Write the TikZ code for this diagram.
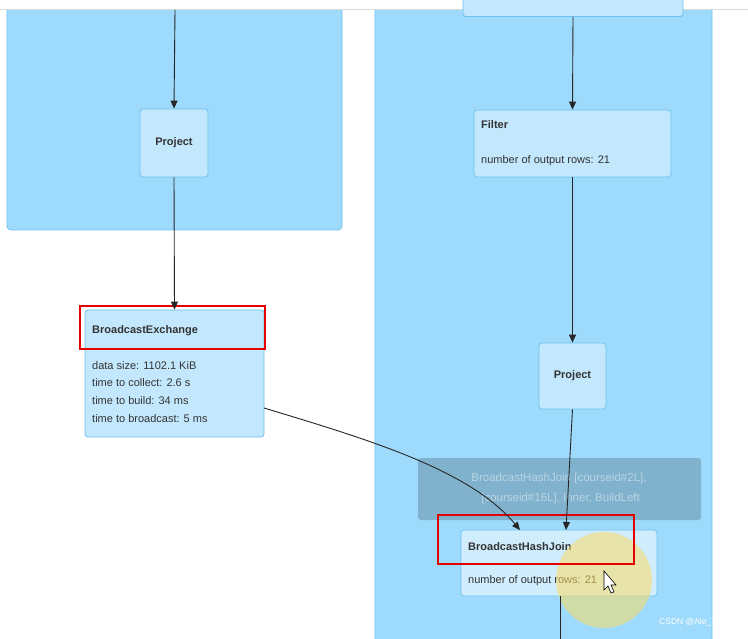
\documentclass[tikz,border=0pt]{standalone}
\usepackage{fontspec}
\setmainfont{Liberation Sans}
\usetikzlibrary{arrows.meta}
\definecolor{clus}{HTML}{9DDAFB}
\definecolor{clusb}{HTML}{6EC3EE}
\definecolor{nodef}{HTML}{C3E8FD}
\definecolor{txt}{HTML}{333333}
\begin{document}
\begin{tikzpicture}[x=1pt,y=-1pt,
 cluster/.style={draw=clusb,fill=clus,rounded corners=4pt,line width=0.8pt},
 op/.style={draw=clusb,fill=nodef,rounded corners=3pt,line width=0.8pt},
 t/.style={text=txt,font=\fontsize{11}{13}\selectfont,anchor=west,inner sep=0},
 tb/.style={t,font=\fontsize{11}{13}\selectfont\bfseries},
 e/.style={draw=black!85,line width=0.9pt,-{Triangle[length=8pt,width=7pt]}},
 hl/.style={draw=red!90!black,line width=1.6pt}]
\useasboundingbox (0,0) rectangle (748,639);
\fill[white] (0,0) rectangle (748,639);
\draw[cluster] (7,-10) rectangle (342,230);
\draw[cluster] (375,-10) rectangle (712,660);
\fill[white] (0,0) rectangle (748,9.5);
\draw[black!15,line width=1pt] (0,10) -- (748,10);
% nodes
\node[op,minimum width=220pt,minimum height=26pt,anchor=south] (top) at (573,17) {};
\node[op,minimum width=68pt,minimum height=68pt] (pl) at (174,143) {};
\node[tb,anchor=center] at (174,143) {Project};
\node[op,minimum width=197pt,minimum height=67pt] (flt) at (572.5,143.5) {};
\node[tb] at (481,125) {Filter};
\node[t] at (481,161) {number of output rows: 21};
\node[op,minimum width=179pt,minimum height=127pt] (be) at (174.5,373.5) {};
\node[tb] at (92,331) {BroadcastExchange};
\node[t,align=left,anchor=north west,font=\fontsize{11}{17.7}\selectfont] at (92,361) {data size: 1102.1 KiB\\time to collect: 2.6 s\\time to build: 34 ms\\time to broadcast: 5 ms};
\draw[hl] (80,306) rectangle (265,349);
\node[op,minimum width=67pt,minimum height=66pt] (pr) at (572.5,376) {};
\node[tb,anchor=center] at (572.5,376) {Project};
% tooltip
\fill[black!40!clus,opacity=0.45,rounded corners=3pt] (418,458) rectangle (701,520);
\node[text=white,opacity=0.45,align=center,font=\fontsize{11.5}{20}\selectfont] (tip) at (559,489) {BroadcastHashJoin {[courseid\#2L]},\\{} {[courseid\#16L]}, Inner, BuildLeft};
\node[op,fill=nodef!80!white,minimum width=196pt,minimum height=66pt] (bhj) at (559,563) {};
\node[tb] at (468,547) {BroadcastHashJoin};
\node[t] at (468,581) {number of output rows: 21};
\fill[yellow!60!orange!60!white,opacity=0.55] (604,580) circle (48);
\draw[hl] (438,515) rectangle (634,564);
% edges
\coordinate (ltop) at (175,10);
\coordinate (bot) at (560,639);
\draw[e] (ltop) -- (pl.north);
\draw[e] (top.south) -- (flt.north);
\draw[e] (pl.south) -- (be.north);
\draw[e] (flt.south) -- (pr.north);
\draw[e] (pr.south) -- (566,530);
\draw[e] (264,408) .. controls (370,440) and (470,470) .. (520,530);
\draw[draw=black!85,line width=0.9pt] (bhj.south -| bot) -- (bot);
% cursor
\draw[black,fill=white,line width=0.6pt] (604,571) -- (604,590) -- (608,586) -- (611,593) -- (614,592) -- (611,585) -- (616,585) -- cycle;
\node[text=white,font=\fontsize{8.5}{10}\selectfont] (wm) at (690,622) {CSDN @Ale\_77};
\end{tikzpicture}
\end{document}
